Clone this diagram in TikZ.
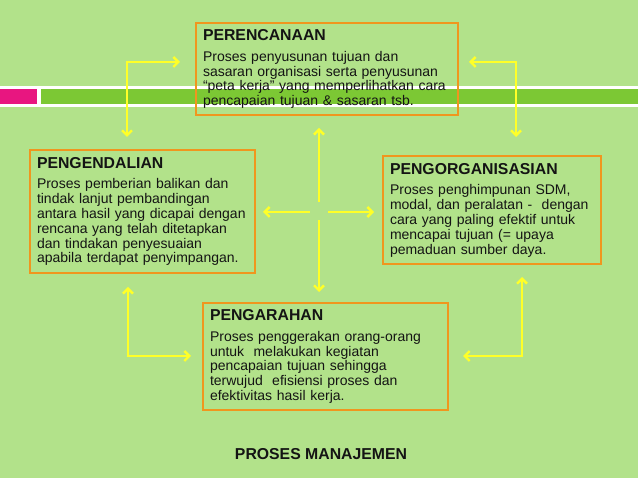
\documentclass[tikz,border=0pt]{standalone}
\usepackage{fontspec}
\setmainfont{Liberation Sans}
\usetikzlibrary{arrows.meta}
\definecolor{bgc}{RGB}{178,226,138}
\definecolor{boxorange}{RGB}{240,150,30}
\definecolor{arrowyellow}{RGB}{255,255,40}
\definecolor{bandgreen}{RGB}{124,200,52}
\definecolor{pinkc}{RGB}{232,22,128}
\definecolor{txt}{RGB}{20,20,20}
\begin{document}
\begin{tikzpicture}[x=1pt,y=-1pt,
  box/.style={draw=boxorange, line width=2.4pt, anchor=north west, outer sep=0pt,
    inner xsep=7pt, inner ysep=0pt, align=left, text=txt,
    font=\fontsize{14}{14.8}\selectfont},
  head/.style={},
  flow/.style={draw=arrowyellow, line width=2.4pt,
    {Straight Barb[length=5pt,width=10pt]}-{Straight Barb[length=5pt,width=10pt]}},
  one/.style={draw=arrowyellow, line width=2.4pt, -{Straight Barb[length=5pt,width=10pt]}}
]
\fill[bgc] (0,0) rectangle (638,478);
\useasboundingbox (0,0) rectangle (638,478);
% band
\fill[white] (0,86) rectangle (638,107);
\fill[pinkc] (0,89) rectangle (37,104);
\fill[bandgreen] (41,89) rectangle (638,104);

\newcommand{\hd}[1]{{\fontsize{15.8}{14.8}\selectfont\bfseries #1}\\[6pt]}

\node[box, text width=248pt, minimum height=92pt] (plan) at (196,23)
 {\hd{PERENCANAAN}Proses penyusunan tujuan dan\\
  sasaran organisasi serta penyusunan\\
  “peta kerja” yang memperlihatkan cara\\
  pencapaian tujuan \& sasaran tsb.};

\node[box, text width=211pt, minimum height=123pt] (ctrl) at (30,150)
 {\hd{PENGENDALIAN}Proses pemberian balikan dan\\
  tindak lanjut pembandingan\\
  antara hasil yang dicapai dengan\\
  rencana yang telah ditetapkan\\
  dan tindakan penyesuaian\\
  apabila terdapat penyimpangan.};

\node[box, text width=204pt, minimum height=108pt] (org) at (383,156)
 {\hd{PENGORGANISASIAN}Proses penghimpunan SDM,\\
  modal, dan peralatan -\ \ dengan\\
  cara yang paling efektif untuk\\
  mencapai tujuan (= upaya\\
  pemaduan sumber daya.};

\node[box, text width=231pt, minimum height=107pt] (dir) at (203,303)
 {\hd{PENGARAHAN}Proses penggerakan orang-orang\\
  untuk\ \ melakukan kegiatan\\
  pencapaian tujuan sehingga\\
  terwujud\ \ efisiensi proses dan\\
  efektivitas hasil kerja.};

\node[text=txt, font=\fontsize{15.8}{16}\selectfont\bfseries, inner sep=0pt] (title) at (321,454) {PROSES MANAJEMEN};

% corner arrows
\coordinate (tlA) at (127,137); \coordinate (tlB) at (180,62);
\coordinate (trA) at (516,137); \coordinate (trB) at (469,62);
\coordinate (blA) at (128,287); \coordinate (blB) at (191,356);
\coordinate (brA) at (522,277); \coordinate (brB) at (463,356);
\draw[flow] (tlA) |- (tlB);
\draw[flow] (trA) |- (trB);
\draw[flow] (blA) |- (blB);
\draw[flow] (brA) |- (brB);

% centre cross
\coordinate (cu0) at (319,202); \coordinate (cu1) at (319,128);
\coordinate (cd0) at (319,220); \coordinate (cd1) at (319,292);
\coordinate (cl0) at (310,212); \coordinate (cl1) at (263,212);
\coordinate (cr0) at (328,212); \coordinate (cr1) at (374,212);
\draw[one] (cu0) -- (cu1);
\draw[one] (cd0) -- (cd1);
\draw[one] (cl0) -- (cl1);
\draw[one] (cr0) -- (cr1);
\end{tikzpicture}
\end{document}
